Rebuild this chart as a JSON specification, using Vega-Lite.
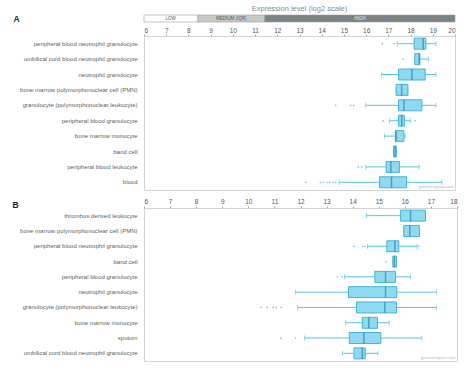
{
  "$schema": "https://vega.github.io/schema/vega-lite/v6.json",
  "background": "white",
  "padding": {"left": 11, "top": 5, "right": 5, "bottom": 5},
  "spacing": 3,
  "config": {
    "font": "Liberation Sans",
    "view": {"stroke": "#d4d4d4", "strokeWidth": 1},
    "tick": {"thickness": 1},
    "axisX": {"labelOverlap": false, "tickMinStep": 1, "tickCount": 20}
  },
  "datasets": {
    "banner": [
      {"band": "LOW", "start": 6, "end": 8.43, "mid": 7.2},
      {"band": "MEDIUM (IQR)", "start": 8.43, "end": 11.44, "mid": 9.93},
      {"band": "HIGH", "start": 11.44, "end": 20, "mid": 15.72}
    ],
    "a_box": [
      {"cat": "peripheral blood neutrophil granulocyte", "lo": 17.40, "q1": 18.16, "med": 18.57, "q3": 18.69, "hi": 19.14},
      {"cat": "umbilical cord blood neutrophil granulocyte", "lo": 18.19, "q1": 18.19, "med": 18.39, "q3": 18.42, "hi": 18.81},
      {"cat": "neutrophil granulocyte", "lo": 16.70, "q1": 17.46, "med": 18.06, "q3": 18.66, "hi": 19.14},
      {"cat": "bone marrow polymorphonuclear cell (PMN)", "lo": 17.35, "q1": 17.35, "med": 17.60, "q3": 17.88, "hi": 17.88},
      {"cat": "granulocyte (polymorphonuclear leukocyte)", "lo": 15.98, "q1": 17.46, "med": 17.70, "q3": 18.51, "hi": 19.14},
      {"cat": "peripheral blood granulocyte", "lo": 17.05, "q1": 17.46, "med": 17.60, "q3": 17.72, "hi": 17.99},
      {"cat": "bone marrow monocyte", "lo": 16.83, "q1": 17.32, "med": 17.35, "q3": 17.70, "hi": 17.76},
      {"cat": "band cell", "lo": 17.23, "q1": 17.23, "med": 17.30, "q3": 17.36, "hi": 17.36},
      {"cat": "peripheral blood leukocyte", "lo": 15.98, "q1": 16.90, "med": 17.11, "q3": 17.50, "hi": 18.39},
      {"cat": "blood", "lo": 14.78, "q1": 16.60, "med": 17.14, "q3": 17.82, "hi": 19.41}
    ],
    "a_out": [
      {"cat": "peripheral blood neutrophil granulocyte", "v": 16.73},
      {"cat": "peripheral blood neutrophil granulocyte", "v": 17.26},
      {"cat": "umbilical cord blood neutrophil granulocyte", "v": 17.67},
      {"cat": "granulocyte (polymorphonuclear leukocyte)", "v": 14.63},
      {"cat": "granulocyte (polymorphonuclear leukocyte)", "v": 15.30},
      {"cat": "granulocyte (polymorphonuclear leukocyte)", "v": 15.44},
      {"cat": "peripheral blood granulocyte", "v": 16.77},
      {"cat": "peripheral blood granulocyte", "v": 18.22},
      {"cat": "peripheral blood leukocyte", "v": 15.65},
      {"cat": "peripheral blood leukocyte", "v": 15.80},
      {"cat": "blood", "v": 13.28},
      {"cat": "blood", "v": 13.94},
      {"cat": "blood", "v": 14.06},
      {"cat": "blood", "v": 14.26},
      {"cat": "blood", "v": 14.36},
      {"cat": "blood", "v": 14.53},
      {"cat": "blood", "v": 14.63}
    ],
    "b_box": [
      {"cat": "thrombus derived leukocyte", "lo": 14.53, "q1": 15.83, "med": 16.22, "q3": 16.79, "hi": 16.79},
      {"cat": "bone marrow polymorphonuclear cell (PMN)", "lo": 15.96, "q1": 15.96, "med": 16.19, "q3": 16.56, "hi": 16.56},
      {"cat": "peripheral blood neutrophil granulocyte", "lo": 14.57, "q1": 15.31, "med": 15.62, "q3": 15.77, "hi": 16.47},
      {"cat": "band cell", "lo": 15.54, "q1": 15.54, "med": 15.60, "q3": 15.68, "hi": 15.68},
      {"cat": "peripheral blood granulocyte", "lo": 13.69, "q1": 14.85, "med": 15.26, "q3": 15.64, "hi": 16.22},
      {"cat": "neutrophil granulocyte", "lo": 11.81, "q1": 13.84, "med": 15.26, "q3": 15.69, "hi": 17.22},
      {"cat": "granulocyte (polymorphonuclear leukocyte)", "lo": 11.89, "q1": 14.15, "med": 15.23, "q3": 15.68, "hi": 17.22},
      {"cat": "bone marrow monocyte", "lo": 13.73, "q1": 14.37, "med": 14.62, "q3": 14.95, "hi": 15.40},
      {"cat": "sputum", "lo": 12.16, "q1": 13.87, "med": 14.43, "q3": 15.08, "hi": 16.65},
      {"cat": "umbilical cord blood neutrophil granulocyte", "lo": 13.61, "q1": 14.05, "med": 14.37, "q3": 14.48, "hi": 14.97}
    ],
    "b_out": [
      {"cat": "peripheral blood neutrophil granulocyte", "v": 14.06},
      {"cat": "peripheral blood neutrophil granulocyte", "v": 14.37},
      {"cat": "peripheral blood neutrophil granulocyte", "v": 14.47},
      {"cat": "peripheral blood neutrophil granulocyte", "v": 16.55},
      {"cat": "band cell", "v": 15.28},
      {"cat": "peripheral blood granulocyte", "v": 13.41},
      {"cat": "peripheral blood granulocyte", "v": 13.60},
      {"cat": "granulocyte (polymorphonuclear leukocyte)", "v": 10.49},
      {"cat": "granulocyte (polymorphonuclear leukocyte)", "v": 10.72},
      {"cat": "granulocyte (polymorphonuclear leukocyte)", "v": 10.95},
      {"cat": "granulocyte (polymorphonuclear leukocyte)", "v": 11.07},
      {"cat": "granulocyte (polymorphonuclear leukocyte)", "v": 11.26},
      {"cat": "sputum", "v": 11.24},
      {"cat": "sputum", "v": 11.81}
    ]
  },
  "vconcat": [
    {
      "width": 311,
      "height": 7,
      "view": {"stroke": null},
      "title": {"text": "Expression level (log2 scale)", "fontSize": 7.5, "fontWeight": "normal", "color": "#8a8a8a", "anchor": "middle", "offset": 2},
      "data": {"name": "banner"},
      "encoding": {
        "y": {"datum": "level", "type": "nominal", "axis": {"title": "A", "labels": false, "ticks": false, "domain": false, "titleAngle": 0, "titleX": -131, "titleY": 3.5, "titleAlign": "left", "titleBaseline": "middle", "titleFontSize": 8.5, "titleFontWeight": "bold", "titleColor": "#222222"}}
      },
      "layer": [
        {
          "mark": {"type": "rect", "stroke": "#9a9a9a", "strokeWidth": 0.6},
          "encoding": {
            "x": {"field": "start", "type": "quantitative", "scale": {"domain": [6, 20], "nice": false, "zero": false}, "axis": null},
            "x2": {"field": "end"},
            "color": {"field": "band", "type": "nominal", "scale": {"domain": ["LOW", "MEDIUM (IQR)", "HIGH"], "range": ["#ffffff", "#c6cac9", "#7b8482"]}, "legend": null}
          }
        },
        {
          "mark": {"type": "text", "fontSize": 4.5, "baseline": "middle"},
          "encoding": {
            "x": {"field": "mid", "type": "quantitative"},
            "text": {"field": "band"},
            "color": {"field": "band", "type": "nominal", "scale": {"domain": ["LOW", "MEDIUM (IQR)", "HIGH"], "range": ["#555555", "#555555", "#eeeeee"]}, "legend": null}
          }
        }
      ],
      "resolve": {"scale": {"color": "independent"}}
    },
    {
      "width": 311,
      "height": 154,
      "data": {"name": "a_box"},
      "encoding": {
        "y": {
          "field": "cat", "type": "nominal",
          "scale": {"domain": ["peripheral blood neutrophil granulocyte", "umbilical cord blood neutrophil granulocyte", "neutrophil granulocyte", "bone marrow polymorphonuclear cell (PMN)", "granulocyte (polymorphonuclear leukocyte)", "peripheral blood granulocyte", "bone marrow monocyte", "band cell", "peripheral blood leukocyte", "blood"]},
          "axis": {"title": ["genevestigator.com", " "], "titleAngle": 0, "titleX": 309, "titleY": 148, "titleAlign": "right", "titleBaseline": "top", "titleFontSize": 4, "titleLineHeight": 5, "titleFontWeight": "normal", "titleColor": "#b5b5b5", "labelFontSize": 6, "labelColor": "#606060", "ticks": false, "domain": false, "labelPadding": 7}
        }
      },
      "layer": [
        {
          "mark": {"type": "rule", "color": "#5cc3e2", "strokeWidth": 1},
          "encoding": {
            "x": {"field": "lo", "type": "quantitative", "scale": {"domain": [6, 20], "nice": false, "zero": false},
              "axis": {"orient": "top", "title": null, "values": [6,7,8,9,10,11,12,13,14,15,16,17,18,19,20], "format": "d", "labelOverlap": false, "labelFontSize": 6.5, "labelColor": "#555555", "tickSize": 2, "tickColor": "#aaaaaa", "domain": false, "grid": false, "labelPadding": 1}},
            "x2": {"field": "hi"}
          }
        },
        {"mark": {"type": "tick", "color": "#5cc3e2", "size": 5}, "encoding": {"x": {"field": "lo", "type": "quantitative"}}},
        {"mark": {"type": "tick", "color": "#5cc3e2", "size": 5}, "encoding": {"x": {"field": "hi", "type": "quantitative"}}},
        {
          "mark": {"type": "bar", "size": 11, "fill": "#8fdaf0", "stroke": "#45b4d8", "strokeWidth": 1},
          "encoding": {"x": {"field": "q1", "type": "quantitative"}, "x2": {"field": "q3"}}
        },
        {"mark": {"type": "tick", "color": "#2a86b5", "size": 11, "thickness": 1.5}, "encoding": {"x": {"field": "med", "type": "quantitative"}}},
        {
          "data": {"name": "a_out"},
          "mark": {"type": "circle", "size": 3, "color": "#78cde6", "opacity": 1},
          "encoding": {"x": {"field": "v", "type": "quantitative"}}
        }
      ]
    },
    {
      "width": 313,
      "height": 153,
      "data": {"name": "b_box"},
      "encoding": {
        "y": {
          "field": "cat", "type": "nominal",
          "scale": {"domain": ["thrombus derived leukocyte", "bone marrow polymorphonuclear cell (PMN)", "peripheral blood neutrophil granulocyte", "band cell", "peripheral blood granulocyte", "neutrophil granulocyte", "granulocyte (polymorphonuclear leukocyte)", "bone marrow monocyte", "sputum", "umbilical cord blood neutrophil granulocyte"]},
          "axis": {"title": "B", "titleAngle": 0, "titleX": -132, "titleY": -4, "titleAlign": "left", "titleBaseline": "middle", "titleFontSize": 8.5, "titleFontWeight": "bold", "titleColor": "#222222", "labelFontSize": 6, "labelColor": "#606060", "ticks": false, "domain": false, "labelPadding": 7}
        }
      },
      "layer": [
        {
          "mark": {"type": "rule", "color": "#5cc3e2", "strokeWidth": 1},
          "encoding": {
            "x": {"field": "lo", "type": "quantitative", "scale": {"domain": [6, 18], "nice": false, "zero": false},
              "axis": {"orient": "top", "title": "genevestigator.com", "titleX": 311, "titleY": 147, "titleAlign": "right", "titleAnchor": null, "titleBaseline": "top", "titleFontSize": 4, "titleFontWeight": "normal", "titleColor": "#b5b5b5", "values": [6,7,8,9,10,11,12,13,14,15,16,17,18], "format": "d", "labelOverlap": false, "labelFontSize": 6.5, "labelColor": "#555555", "tickSize": 2, "tickColor": "#aaaaaa", "domain": false, "grid": false, "labelPadding": 2}},
            "x2": {"field": "hi"}
          }
        },
        {"mark": {"type": "tick", "color": "#5cc3e2", "size": 5}, "encoding": {"x": {"field": "lo", "type": "quantitative"}}},
        {"mark": {"type": "tick", "color": "#5cc3e2", "size": 5}, "encoding": {"x": {"field": "hi", "type": "quantitative"}}},
        {
          "mark": {"type": "bar", "size": 11, "fill": "#8fdaf0", "stroke": "#45b4d8", "strokeWidth": 1},
          "encoding": {"x": {"field": "q1", "type": "quantitative"}, "x2": {"field": "q3"}}
        },
        {"mark": {"type": "tick", "color": "#2a86b5", "size": 11, "thickness": 1.5}, "encoding": {"x": {"field": "med", "type": "quantitative"}}},
        {
          "data": {"name": "b_out"},
          "mark": {"type": "circle", "size": 3, "color": "#78cde6", "opacity": 1},
          "encoding": {"x": {"field": "v", "type": "quantitative"}}
        }
      ]
    }
  ]
}
